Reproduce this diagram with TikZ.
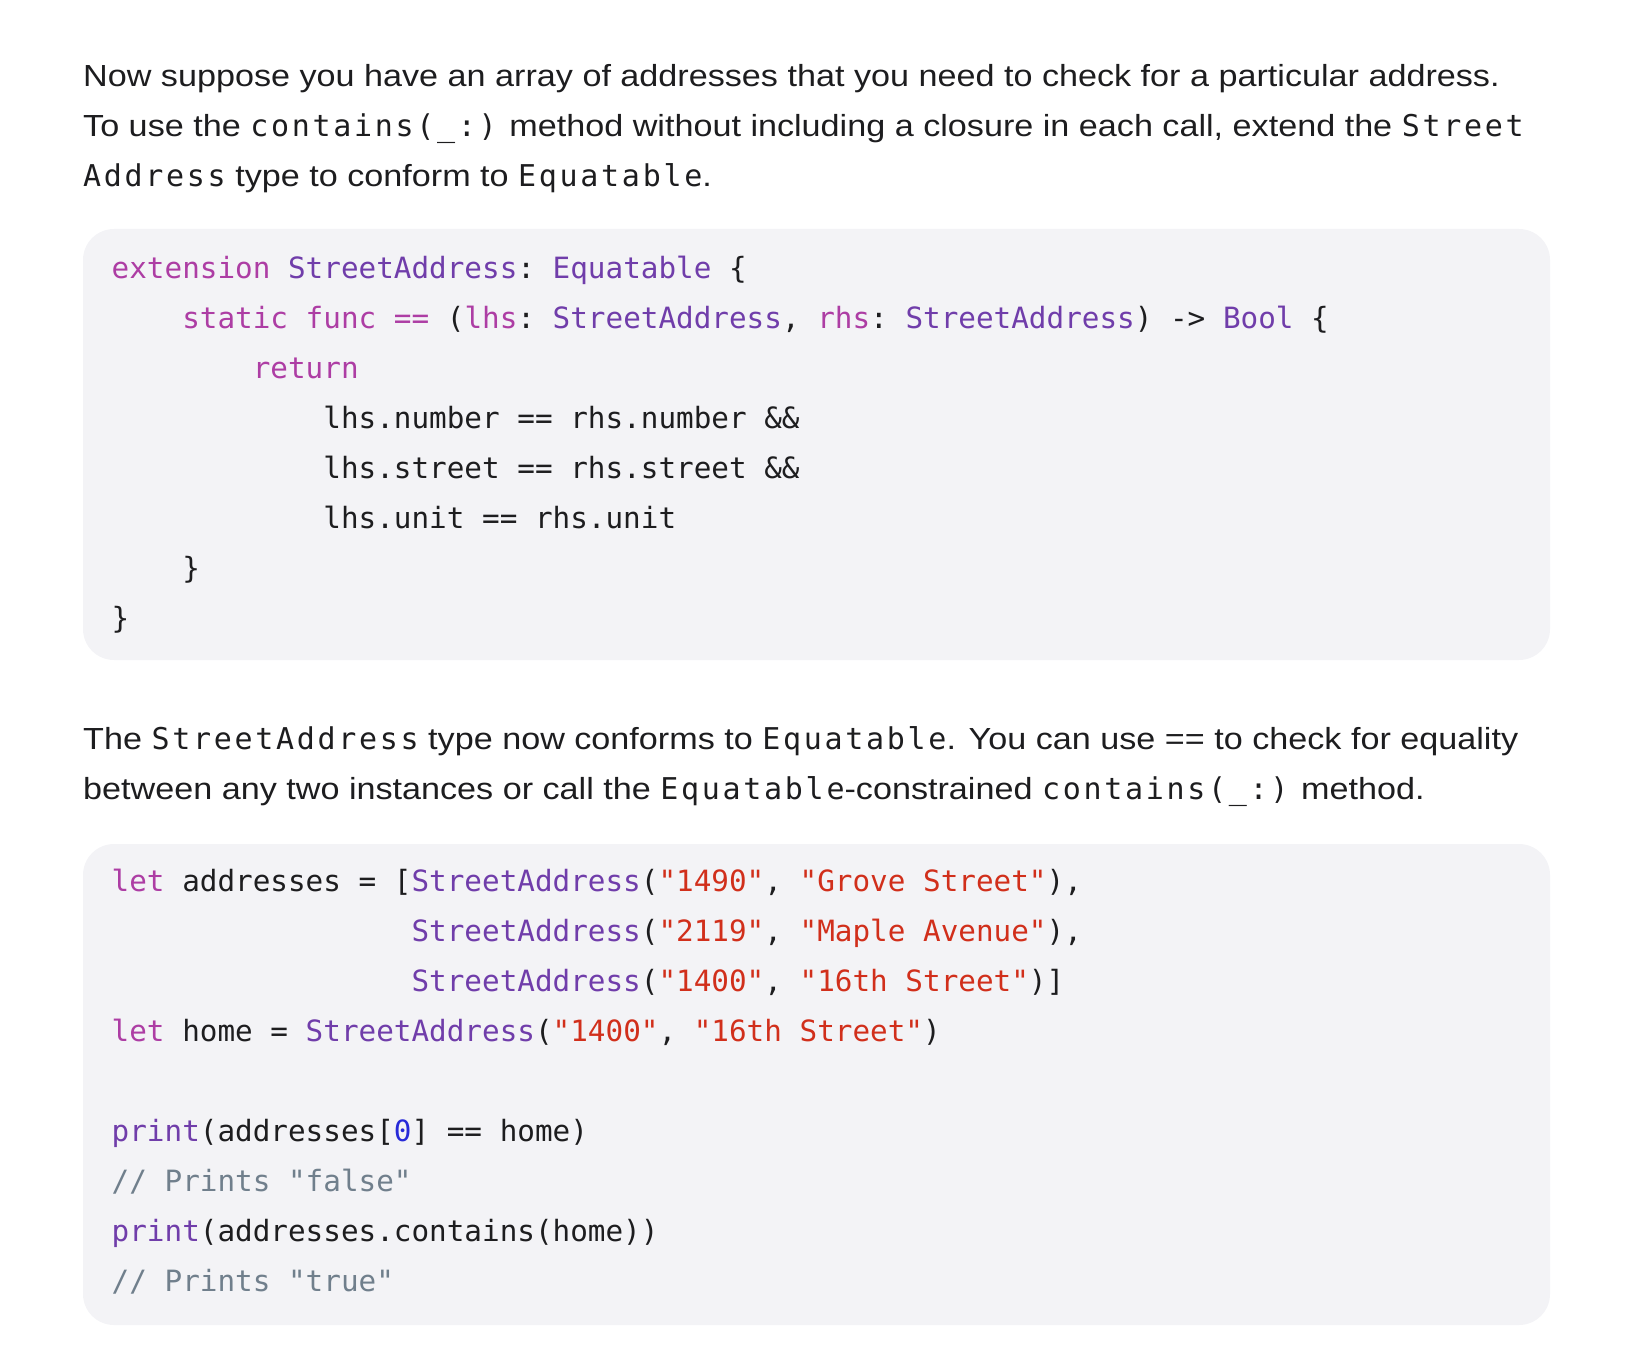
\documentclass[tikz,border=0pt]{standalone}
\usepackage{fontspec}
\setmainfont[FakeStretch=1.12]{Liberation Sans}
\setmonofont{DejaVu Sans Mono}
\newfontfamily\imfont[LetterSpace=9]{DejaVu Sans Mono}
\definecolor{txt}{HTML}{1D1D1F}
\definecolor{bg}{HTML}{F3F3F6}
\definecolor{ckwc}{HTML}{AD3DA4}
\definecolor{ctyc}{HTML}{703DAA}
\definecolor{cstc}{HTML}{D12F1B}
\definecolor{cnmc}{HTML}{272AD8}
\definecolor{ccmc}{HTML}{707F8C}
\newcommand{\ckw}[1]{\textcolor{ckwc}{#1}}
\newcommand{\cty}[1]{\textcolor{ctyc}{#1}}
\newcommand{\cst}[1]{\textcolor{cstc}{#1}}
\newcommand{\cnm}[1]{\textcolor{cnmc}{#1}}
\newcommand{\ccm}[1]{\textcolor{ccmc}{#1}}
\newcommand{\im}[1]{{\fontsize{30}{36}\imfont #1}}
\begin{document}
\begin{tikzpicture}[x=1pt,y=-1pt,
  para/.style={anchor=base west,inner sep=0,text=txt,font=\fontsize{30.5}{36}\selectfont},
  code/.style={anchor=base west,inner sep=0,text=txt,font=\fontsize{29.3}{34}\ttfamily}]
\useasboundingbox (0,0) rectangle (1633,1351);
\fill[bg,rounded corners=31] (83,229) rectangle (1550,660);
\fill[bg,rounded corners=31] (83,844) rectangle (1550,1325);
\node[para] (p1) at (83,86.5) {Now suppose you have an array of addresses that you need to check for a particular address.};
\node[para] (p2) at (83,136.5) {To use the \im{contains(\_:)} method without including a closure in each call, extend the \im{Street}};
\node[para] (p3) at (83,186.5) {\im{Address} type to conform to \im{Equatable}.};
\node[code] (a1) at (111.5,278) {\ckw{extension} \cty{StreetAddress}: \cty{Equatable} \{};
\node[code] (a2) at (111.5,328) {\phantom{xxxx}\ckw{static} \ckw{func} \ckw{==} (\ckw{lhs}: \cty{StreetAddress}, \ckw{rhs}: \cty{StreetAddress}) -> \cty{Bool} \{};
\node[code] (a3) at (111.5,378) {\phantom{xxxxxxxx}\ckw{return}};
\node[code] (a4) at (111.5,428) {\phantom{xxxxxxxxxxxx}lhs.number == rhs.number \&\&};
\node[code] (a5) at (111.5,478) {\phantom{xxxxxxxxxxxx}lhs.street == rhs.street \&\&};
\node[code] (a6) at (111.5,528) {\phantom{xxxxxxxxxxxx}lhs.unit == rhs.unit};
\node[code] (a7) at (111.5,578) {\phantom{xxxx}\}};
\node[code] (a8) at (111.5,628) {\}};
\node[para] (q1) at (83,749) {The \im{StreetAddress} type now conforms to \im{Equatable}. You can use == to check for equality};
\node[para] (q2) at (83,799) {between any two instances or call the \im{Equatable}-constrained \im{contains(\_:)} method.};
\node[code] (b1) at (111.5,891.5) {\ckw{let} addresses = [\cty{StreetAddress}(\cst{"1490"}, \cst{"Grove Street"}),};
\node[code] (b2) at (111.5,941.5) {\phantom{xxxxxxxxxxxxxxxxx}\cty{StreetAddress}(\cst{"2119"}, \cst{"Maple Avenue"}),};
\node[code] (b3) at (111.5,991.5) {\phantom{xxxxxxxxxxxxxxxxx}\cty{StreetAddress}(\cst{"1400"}, \cst{"16th Street"})]};
\node[code] (b4) at (111.5,1041.5) {\ckw{let} home = \cty{StreetAddress}(\cst{"1400"}, \cst{"16th Street"})};
\node[code] (b5) at (111.5,1141.5) {\cty{print}(addresses[\cnm{0}] == home)};
\node[code] (b6) at (111.5,1191.5) {\ccm{// Prints "false"}};
\node[code] (b7) at (111.5,1241.5) {\cty{print}(addresses.contains(home))};
\node[code] (b8) at (111.5,1291.5) {\ccm{// Prints "true"}};
\end{tikzpicture}
\end{document}
